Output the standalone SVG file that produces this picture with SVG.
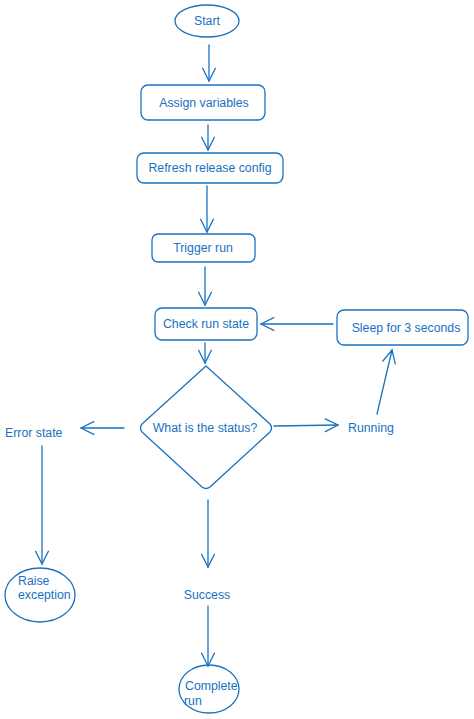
<svg xmlns="http://www.w3.org/2000/svg" width="474" height="719" viewBox="0 0 474 719">
<style>
.s{fill:none;stroke:#1971c2;stroke-width:1.3;stroke-linecap:round;stroke-linejoin:round}
.t{font-family:"Liberation Sans",Arial,sans-serif;font-size:12.3px;fill:#1971c2}
.c{text-anchor:middle}
</style>
<defs>
<marker id="a" viewBox="0 0 20 20" refX="18" refY="10" markerWidth="16" markerHeight="16" markerUnits="userSpaceOnUse" orient="auto">
<path d="M2,2 L18,10 L2,18" fill="none" stroke="#1971c2" stroke-width="1.6" stroke-linecap="round"/>
</marker>
</defs>
<rect width="474" height="719" fill="#fff"/>
<g id="start"><ellipse class="s" cx="207" cy="21" rx="32" ry="16"/><text class="t c" x="207" y="25">Start</text></g>
<g id="assign"><rect class="s" x="141" y="85" width="124" height="35" rx="7"/><text class="t c" x="204" y="107">Assign variables</text></g>
<g id="refresh"><rect class="s" x="137" y="153" width="146" height="30" rx="7"/><text class="t c" x="210" y="172">Refresh release config</text></g>
<g id="trigger"><rect class="s" x="152" y="234" width="103" height="28" rx="6"/><text class="t c" x="203" y="252">Trigger run</text></g>
<g id="check"><rect class="s" x="155" y="308" width="102" height="32" rx="7"/><text class="t c" x="206" y="328">Check run state</text></g>
<g id="sleep"><rect class="s" x="337" y="310" width="131" height="35" rx="7"/><text class="t c" x="406" y="332">Sleep for 3 seconds</text></g>
<g id="decision"><path class="s" d="M206,366 L270,424 Q273,428 270,432 L210,487 Q206,490 202,487 L142,432 Q139,428 142,424 Z"/><text class="t c" x="205" y="432">What is the status?</text></g>
<g id="error"><text class="t" x="5" y="437">Error state</text></g>
<g id="running"><text class="t" x="348" y="432">Running</text></g>
<g id="raise"><ellipse class="s" cx="40" cy="595" rx="35" ry="27"/><text class="t" x="18" y="585">Raise</text><text class="t" x="18" y="599">exception</text></g>
<g id="success"><text class="t c" x="207" y="599">Success</text></g>
<g id="complete"><ellipse class="s" cx="209" cy="689" rx="30" ry="24"/><text class="t" x="185" y="690">Complete</text><text class="t" x="184" y="705">run</text></g>
<g id="connectors">
<path class="s" d="M209,45 L209,81" marker-end="url(#a)"/>
<path class="s" d="M208,125 L208,150" marker-end="url(#a)"/>
<path class="s" d="M207,186 L207,232" marker-end="url(#a)"/>
<path class="s" d="M205,267 L205,305" marker-end="url(#a)"/>
<path class="s" d="M333,324 L261,324" marker-end="url(#a)"/>
<path class="s" d="M205,343 L205,363" marker-end="url(#a)"/>
<path class="s" d="M124,428 L81,428" marker-end="url(#a)"/>
<path class="s" d="M274,426 L338,425" marker-end="url(#a)"/>
<path class="s" d="M377,414 L392,350" marker-end="url(#a)"/>
<path class="s" d="M42,446 L42,564" marker-end="url(#a)"/>
<path class="s" d="M208,500 L208,567" marker-end="url(#a)"/>
<path class="s" d="M208,606 L208,666" marker-end="url(#a)"/>
</g>
</svg>
